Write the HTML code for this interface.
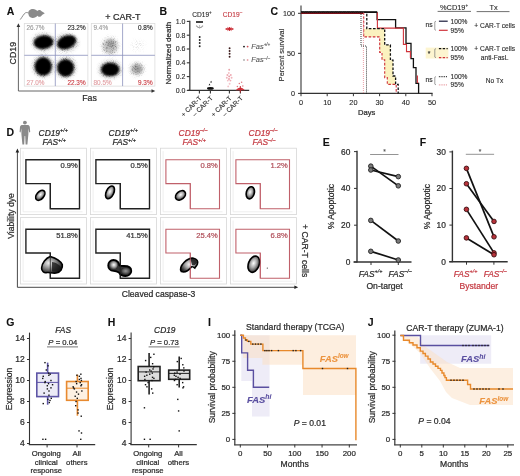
<!DOCTYPE html>
<html><head><meta charset="utf-8"><style>
html,body{margin:0;padding:0;background:#fff;}
svg{display:block;font-family:"Liberation Sans", sans-serif;will-change:transform;}
</style></head><body>
<svg width="520" height="476" viewBox="0 0 520 476">
<defs>
<filter id="blurA" x="-50%" y="-50%" width="200%" height="200%"><feGaussianBlur stdDeviation="1.2"/></filter>
<filter id="speck" x="-50%" y="-50%" width="200%" height="200%" color-interpolation-filters="sRGB"><feGaussianBlur in="SourceGraphic" stdDeviation="2.2" result="b"/><feTurbulence type="fractalNoise" baseFrequency="1.1" numOctaves="1" seed="7" result="n"/><feColorMatrix in="n" type="matrix" values="0 0 0 0 0  0 0 0 0 0  0 0 0 0 0  3 0 0 0 -1.45" result="d"/><feComposite in="d" in2="b" operator="arithmetic" k1="0.75" k2="0" k3="0" k4="0" result="c"/><feGaussianBlur in="c" stdDeviation="0.35"/></filter>
<filter id="blurA2" x="-50%" y="-50%" width="200%" height="200%"><feGaussianBlur stdDeviation="2.2"/></filter>
<filter id="blurA3" x="-50%" y="-50%" width="200%" height="200%"><feGaussianBlur stdDeviation="1.8"/></filter>
<radialGradient id="gD" cx="55%" cy="45%" r="60%"><stop offset="0" stop-color="#fff"/><stop offset="0.45" stop-color="#aaa"/><stop offset="1" stop-color="#222"/></radialGradient>
<radialGradient id="gD2" cx="35%" cy="40%" r="70%"><stop offset="0" stop-color="#eee"/><stop offset="0.4" stop-color="#999"/><stop offset="1" stop-color="#111"/></radialGradient>
<radialGradient id="gD3" cx="50%" cy="50%" r="60%"><stop offset="0" stop-color="#999"/><stop offset="0.6" stop-color="#555"/><stop offset="1" stop-color="#111"/></radialGradient>
</defs>
<text x="6.7" y="14.7" font-size="10.5" fill="#111" stroke="#111" stroke-width="0.1" font-weight="bold">A</text>
<path d="M28.3,13.5 C28,10.5 30.5,8.9 33,9 C35,9 36.5,10 37.2,11 C38,10 39.5,9.6 40.5,10.2 C41,10.6 41.5,11.2 42,11.6 L44.8,13.3 L42,15 C41.5,16 40.5,16.8 39.5,16.8 C38.5,16.8 37.8,16.3 37.2,15.8 C36.5,17.2 34.5,18.1 32.5,18 C30,17.9 28.5,16 28.3,13.5 Z" fill="#8a8a8a"/>
<path d="M20.2,19.6 C22,17.5 23.5,14 25.5,12.8 C26.5,12.3 27.5,12.6 28.6,13" stroke="#8a8a8a" stroke-width="1.0" fill="none"/>
<line x1="18.4" y1="91" x2="18.4" y2="26" stroke="#555" stroke-width="0.9"/>
<path d="M18.4,23.2 L16.6,27 L20.2,27 Z" fill="#333"/>
<line x1="18.4" y1="91" x2="152.5" y2="91" stroke="#555" stroke-width="0.9"/>
<path d="M155.3,91 L151.5,89.2 L151.5,92.8 Z" fill="#333"/>
<rect x="24.3" y="23.5" width="63.6" height="62.6" fill="#fff" stroke="#dcdcdc" stroke-width="0.8"/>
<rect x="91.3" y="23.5" width="63.6" height="62.6" fill="#fff" stroke="#dcdcdc" stroke-width="0.8"/>
<g filter="url(#speck)">
<ellipse cx="43.5" cy="42.2" rx="10.5" ry="7.8" fill="#000" opacity="1"/>
<ellipse cx="66.8" cy="42.2" rx="10.5" ry="7.8" fill="#000" opacity="1"/>
<ellipse cx="43.2" cy="66.3" rx="9.6" ry="10.2" fill="#000" opacity="1"/>
<ellipse cx="65.6" cy="67.6" rx="9.5" ry="9.6" fill="#000" opacity="1"/>
<ellipse cx="110.2" cy="69.4" rx="10.5" ry="8.2" fill="#000" opacity="1"/>
<ellipse cx="110.2" cy="46" rx="8.8" ry="9" fill="#000" opacity="0.55"/>
<ellipse cx="137" cy="69" rx="7.4" ry="7" fill="#000" opacity="0.55"/>
<ellipse cx="138" cy="45.5" rx="6.5" ry="5.5" fill="#000" opacity="0.25"/>
<ellipse cx="44.5" cy="60" rx="7" ry="4" fill="#000" opacity="0.5"/>
<ellipse cx="66.5" cy="61" rx="7.5" ry="5" fill="#000" opacity="0.55"/>
<ellipse cx="60.5" cy="50" rx="4" ry="3" fill="#000" opacity="0.5"/>
</g>
<g filter="url(#blurA)">
<ellipse cx="43.5" cy="42.2" rx="9.7" ry="6.7" transform="rotate(-6 43.5 42.2)" fill="#000"/>
<ellipse cx="66.6" cy="42.3" rx="9.9" ry="6.4" transform="rotate(-22 66.6 42.3)" fill="#000"/>
<ellipse cx="43.2" cy="66.4" rx="8.5" ry="9.2" fill="#000"/>
<ellipse cx="65.6" cy="67.8" rx="8.3" ry="8.6" fill="#000"/>
<ellipse cx="110.2" cy="69.4" rx="9.1" ry="6.7" fill="#000"/>
</g>
<g filter="url(#blurA3)">
<ellipse cx="110.2" cy="46.2" rx="7.6" ry="7.8" fill="#000" opacity="0.22"/>
<ellipse cx="110.8" cy="43.5" rx="4" ry="4" fill="#000" opacity="0.18"/>
<ellipse cx="137" cy="69" rx="6.2" ry="5.8" fill="#000" opacity="0.28"/>
<ellipse cx="137.5" cy="69" rx="3" ry="3" fill="#000" opacity="0.18"/>
</g>
<g filter="url(#blurA2)" opacity="0.25">
<ellipse cx="43.5" cy="42.2" rx="10.5" ry="7.5" fill="#000"/>
<ellipse cx="66.8" cy="42.5" rx="10.5" ry="7.5" fill="#000"/>
<ellipse cx="43.2" cy="66.3" rx="9.5" ry="10" fill="#000"/>
<ellipse cx="65.6" cy="67.6" rx="9.5" ry="9.5" fill="#000"/>
<ellipse cx="110.2" cy="69.4" rx="10.5" ry="8" fill="#000"/>
</g>
<line x1="55.3" y1="23.5" x2="55.3" y2="86.1" stroke="#8c90bd" stroke-width="0.8"/>
<line x1="24.3" y1="55.3" x2="87.9" y2="55.3" stroke="#8c90bd" stroke-width="0.8"/>
<line x1="122.6" y1="23.5" x2="122.6" y2="86.1" stroke="#8c90bd" stroke-width="0.8"/>
<line x1="91.3" y1="55.3" x2="154.9" y2="55.3" stroke="#8c90bd" stroke-width="0.8"/>
<text x="26.4" y="30.2" font-size="6.4" fill="#9a9a9a" stroke="#9a9a9a" stroke-width="0.12">26.7%</text>
<text x="85.6" y="30.2" font-size="6.4" fill="#222" stroke="#222" stroke-width="0.12" text-anchor="end">23.2%</text>
<text x="26.4" y="85.3" font-size="6.4" fill="#e2a0a4" stroke="#e2a0a4" stroke-width="0.12">27.0%</text>
<text x="85.6" y="85.3" font-size="6.4" fill="#c93a40" stroke="#c93a40" stroke-width="0.12" text-anchor="end">22.3%</text>
<text x="93.5" y="30.2" font-size="6.4" fill="#9a9a9a" stroke="#9a9a9a" stroke-width="0.12">9.4%</text>
<text x="152.6" y="30.2" font-size="6.4" fill="#222" stroke="#222" stroke-width="0.12" text-anchor="end">0.8%</text>
<text x="93.5" y="85.3" font-size="6.4" fill="#e2a0a4" stroke="#e2a0a4" stroke-width="0.12">80.5%</text>
<text x="152.6" y="85.3" font-size="6.4" fill="#c93a40" stroke="#c93a40" stroke-width="0.12" text-anchor="end">9.3%</text>
<text x="105.3" y="20.4" font-size="9" fill="#2a2a2a" stroke="#2a2a2a" stroke-width="0.22">+ CAR-T</text>
<text x="15.8" y="53.2" font-size="8.8" fill="#2a2a2a" stroke="#2a2a2a" stroke-width="0.22" text-anchor="middle" transform="rotate(-90 15.8 53.2)">CD19</text>
<text x="89.5" y="101.4" font-size="8.8" fill="#2a2a2a" stroke="#2a2a2a" stroke-width="0.22" text-anchor="middle">Fas</text>
<text x="159.6" y="14.7" font-size="10.5" fill="#111" stroke="#111" stroke-width="0.1" font-weight="bold">B</text>
<line x1="189.8" y1="20.8" x2="189.8" y2="91" stroke="#4a4a4a" stroke-width="1.4"/>
<line x1="187.7" y1="90.4" x2="249.2" y2="90.4" stroke="#333" stroke-width="1.4"/>
<line x1="186.8" y1="90.4" x2="189.8" y2="90.4" stroke="#333" stroke-width="1.1"/>
<text x="185.4" y="92.80000000000001" font-size="7" fill="#2a2a2a" stroke="#2a2a2a" stroke-width="0.12" text-anchor="end">0.0</text>
<line x1="186.8" y1="76.60000000000001" x2="189.8" y2="76.60000000000001" stroke="#333" stroke-width="1.1"/>
<text x="185.4" y="79.00000000000001" font-size="7" fill="#2a2a2a" stroke="#2a2a2a" stroke-width="0.12" text-anchor="end">0.2</text>
<line x1="186.8" y1="62.800000000000004" x2="189.8" y2="62.800000000000004" stroke="#333" stroke-width="1.1"/>
<text x="185.4" y="65.2" font-size="7" fill="#2a2a2a" stroke="#2a2a2a" stroke-width="0.12" text-anchor="end">0.4</text>
<line x1="186.8" y1="49.0" x2="189.8" y2="49.0" stroke="#333" stroke-width="1.1"/>
<text x="185.4" y="51.4" font-size="7" fill="#2a2a2a" stroke="#2a2a2a" stroke-width="0.12" text-anchor="end">0.6</text>
<line x1="186.8" y1="35.2" x2="189.8" y2="35.2" stroke="#333" stroke-width="1.1"/>
<text x="185.4" y="37.6" font-size="7" fill="#2a2a2a" stroke="#2a2a2a" stroke-width="0.12" text-anchor="end">0.8</text>
<line x1="186.8" y1="21.400000000000006" x2="189.8" y2="21.400000000000006" stroke="#333" stroke-width="1.1"/>
<text x="185.4" y="23.800000000000004" font-size="7" fill="#2a2a2a" stroke="#2a2a2a" stroke-width="0.12" text-anchor="end">1.0</text>
<line x1="199.4" y1="90.4" x2="199.4" y2="93.5" stroke="#333" stroke-width="1.1"/>
<line x1="210.4" y1="90.4" x2="210.4" y2="93.5" stroke="#333" stroke-width="1.1"/>
<line x1="229.4" y1="90.4" x2="229.4" y2="93.5" stroke="#333" stroke-width="1.1"/>
<line x1="240.4" y1="90.4" x2="240.4" y2="93.5" stroke="#333" stroke-width="1.1"/>
<text x="171.0" y="53.2" font-size="8.0" fill="#2a2a2a" stroke="#2a2a2a" stroke-width="0.22" text-anchor="middle" transform="rotate(-90 171.0 53.2)">Normalized death</text>
<text x="192.2" y="16.5" font-size="6.6" fill="#2a2a2a" stroke="#2a2a2a" stroke-width="0.12">CD19<tspan dy="-2.2" font-size="4.5">+</tspan></text>
<text x="222.8" y="16.5" font-size="6.6" fill="#c43a42" stroke="#c43a42" stroke-width="0.12">CD19<tspan dy="-2.2" font-size="4.5">&#8211;</tspan></text>
<line x1="196" y1="22" x2="203" y2="22" stroke="#111" stroke-width="1.6"/>
<path d="M196.2,25.6 Q199.6,29.8 203,25.6" stroke="#999" stroke-width="1.1" fill="none"/>
<line x1="199.6" y1="25" x2="199.6" y2="28.5" stroke="#aaa" stroke-width="0.8"/>
<circle cx="199.7" cy="37.0" r="0.95" fill="#222"/>
<circle cx="199.7" cy="40.0" r="0.95" fill="#222"/>
<circle cx="199.7" cy="43.0" r="0.95" fill="#222"/>
<circle cx="199.7" cy="46.2" r="0.95" fill="#222"/>
<ellipse cx="210.4" cy="88.4" rx="3.4" ry="1.4" fill="#111"/>
<path d="M210.2,82.6 L212,82.6 L211.1,80.8 Z" fill="#111"/>
<path d="M208.6,85.2 L210.4,85.2 L209.5,83.4 Z" fill="#111"/>
<path d="M225.6,29 L233.4,29" stroke="#c8242c" stroke-width="1.6"/>
<path d="M227.5,27.4 L231.5,30.6 M227.5,30.6 L231.5,27.4 M229.5,27 L229.5,31" stroke="#c8242c" stroke-width="0.9"/>
<circle cx="229.6" cy="48.2" r="0.95" fill="#3a1a1a"/>
<circle cx="229.6" cy="51.0" r="0.95" fill="#3a1a1a"/>
<circle cx="229.6" cy="53.8" r="0.95" fill="#3a1a1a"/>
<circle cx="229.6" cy="56.8" r="0.95" fill="#3a1a1a"/>
<circle cx="229.2" cy="69.8" r="0.95" fill="#e8a2aa"/>
<circle cx="228.8" cy="73" r="0.95" fill="#f3c0c6"/>
<circle cx="227.4" cy="75" r="0.95" fill="#eeaab2"/>
<circle cx="230.8" cy="75" r="0.95" fill="#eeaab2"/>
<circle cx="229.2" cy="76.4" r="0.95" fill="#e99aa4"/>
<circle cx="226.8" cy="77.8" r="0.95" fill="#f0b4bb"/>
<circle cx="231.6" cy="77.8" r="0.95" fill="#f0b4bb"/>
<circle cx="229" cy="79" r="0.95" fill="#e99aa4"/>
<circle cx="227.8" cy="80.6" r="0.95" fill="#f3c0c6"/>
<circle cx="230.4" cy="80.6" r="0.95" fill="#eeaab2"/>
<circle cx="229.6" cy="83.8" r="0.95" fill="#f3c4ca"/>
<circle cx="228.2" cy="86.4" r="0.95" fill="#f3c4ca"/>
<path d="M235.6,90.2 Q240.3,84.6 245,90.2 Z" fill="#d0343c"/>
<path d="M240.3,86 L240.3,92.5" stroke="#c0282f" stroke-width="1"/>
<circle cx="239.3" cy="83.6" r="0.75" fill="#e07a82"/>
<circle cx="241.6" cy="82.2" r="0.75" fill="#e07a82"/>
<circle cx="242.8" cy="86" r="0.75" fill="#e07a82"/>
<circle cx="237.4" cy="86.6" r="0.75" fill="#e07a82"/>
<circle cx="244" cy="46.6" r="0.9" fill="#111"/><circle cx="247.6" cy="46.6" r="0.9" fill="#d05058"/>
<circle cx="244" cy="60" r="0.9" fill="#aaa"/><circle cx="247.6" cy="60" r="0.9" fill="#e9a4aa"/>
<text x="251.3" y="48.9" font-size="7.4" fill="#555" stroke="#555" stroke-width="0.12" font-style="italic">Fas<tspan dy="-2.8" font-size="4.6">+/+</tspan></text>
<text x="251.3" y="62.3" font-size="7.4" fill="#555" stroke="#555" stroke-width="0.12" font-style="italic">Fas<tspan dy="-2.8" font-size="4.6">&#8211;/&#8211;</tspan></text>
<text x="202.2" y="98.6" font-size="6.7" fill="#2a2a2a" stroke="#2a2a2a" stroke-width="0.12" text-anchor="end" transform="rotate(-45 202.2 98.6)">+ CAR-T</text>
<text x="213.4" y="98.6" font-size="6.7" fill="#2a2a2a" stroke="#2a2a2a" stroke-width="0.12" text-anchor="end" transform="rotate(-45 213.4 98.6)">&#8211; CAR-T</text>
<text x="232.2" y="98.6" font-size="6.7" fill="#2a2a2a" stroke="#2a2a2a" stroke-width="0.12" text-anchor="end" transform="rotate(-45 232.2 98.6)">+ CAR-T</text>
<text x="243.4" y="98.6" font-size="6.7" fill="#2a2a2a" stroke="#2a2a2a" stroke-width="0.12" text-anchor="end" transform="rotate(-45 243.4 98.6)">&#8211; CAR-T</text>
<text x="270.6" y="14.6" font-size="10.5" fill="#111" stroke="#111" stroke-width="0.1" font-weight="bold">C</text>
<line x1="301.0" y1="5.6" x2="301.0" y2="93.4" stroke="#555" stroke-width="1.3"/>
<line x1="300.4" y1="93.4" x2="432.6" y2="93.4" stroke="#333" stroke-width="1.3"/>
<line x1="298.0" y1="93.4" x2="301.0" y2="93.4" stroke="#333" stroke-width="1"/>
<text x="295.1" y="95.9" font-size="7.2" fill="#2a2a2a" stroke="#2a2a2a" stroke-width="0.12" text-anchor="end">0</text>
<line x1="298.0" y1="53.35" x2="301.0" y2="53.35" stroke="#333" stroke-width="1"/>
<text x="295.1" y="55.85" font-size="7.2" fill="#2a2a2a" stroke="#2a2a2a" stroke-width="0.12" text-anchor="end">50</text>
<line x1="298.0" y1="13.299999999999997" x2="301.0" y2="13.299999999999997" stroke="#333" stroke-width="1"/>
<text x="295.1" y="15.799999999999997" font-size="7.2" fill="#2a2a2a" stroke="#2a2a2a" stroke-width="0.12" text-anchor="end">100</text>
<line x1="301.0" y1="93.4" x2="301.0" y2="96.2" stroke="#333" stroke-width="1"/>
<text x="301.0" y="105.3" font-size="7.3" fill="#2a2a2a" stroke="#2a2a2a" stroke-width="0.12" text-anchor="middle">0</text>
<line x1="327.2" y1="93.4" x2="327.2" y2="96.2" stroke="#333" stroke-width="1"/>
<text x="327.2" y="105.3" font-size="7.3" fill="#2a2a2a" stroke="#2a2a2a" stroke-width="0.12" text-anchor="middle">10</text>
<line x1="353.4" y1="93.4" x2="353.4" y2="96.2" stroke="#333" stroke-width="1"/>
<text x="353.4" y="105.3" font-size="7.3" fill="#2a2a2a" stroke="#2a2a2a" stroke-width="0.12" text-anchor="middle">20</text>
<line x1="379.6" y1="93.4" x2="379.6" y2="96.2" stroke="#333" stroke-width="1"/>
<text x="379.6" y="105.3" font-size="7.3" fill="#2a2a2a" stroke="#2a2a2a" stroke-width="0.12" text-anchor="middle">30</text>
<line x1="405.8" y1="93.4" x2="405.8" y2="96.2" stroke="#333" stroke-width="1"/>
<text x="405.8" y="105.3" font-size="7.3" fill="#2a2a2a" stroke="#2a2a2a" stroke-width="0.12" text-anchor="middle">40</text>
<line x1="432.0" y1="93.4" x2="432.0" y2="96.2" stroke="#333" stroke-width="1"/>
<text x="432.0" y="105.3" font-size="7.3" fill="#2a2a2a" stroke="#2a2a2a" stroke-width="0.12" text-anchor="middle">50</text>
<text x="366.7" y="115.2" font-size="7.6" fill="#2a2a2a" stroke="#2a2a2a" stroke-width="0.22" text-anchor="middle">Days</text>
<text x="284.3" y="54.9" font-size="7.4" fill="#2a2a2a" stroke="#2a2a2a" stroke-width="0.12" text-anchor="middle" transform="rotate(-90 284.3 54.9)">Percent survival</text>
<path d="M363.7,28.6 L366.8,28.6 L384.7,28.6 L384.7,44.9 L390.4,44.9 L390.4,60.2 L393,60.2 L393,76 L395.6,76 L395.6,84.4 L387.3,84.4 L387.3,77.6 L384.7,77.6 L384.7,59.7 L382,59.7 L382,52.4 L379.7,52.4 L379.7,36.9 L363.7,36.9 Z" fill="#fbf1b8" opacity="0.9"/>
<path d="M301,12.4 L377.1,12.4 L377.1,19.7 L395.6,19.7 L395.6,27.8 L406,27.8 L406,43.3 L411,43.3 L411,58.7 L413.4,58.7 L413.4,67.6 L416,67.6 L416,83.3 L418.6,83.3 L418.6,93.4" stroke="#111" stroke-width="1.3" fill="none"/>
<path d="M377.4,12.4 L377.4,28.1 L403.4,28.1 L403.4,44.4 L406.5,44.4 L406.5,51.6 L410.4,51.6 L410.4,58 M417.4,75.5 L417.4,82.5 L418.2,82.5" stroke="#d0333b" stroke-width="1.1" fill="none"/>
<path d="M301,12.4 L366.8,12.4 L366.8,28.6 L384.7,28.6 L384.7,44.9 L390.4,44.9 L390.4,60.2 L393,60.2 L393,76 L395.6,76 L395.6,84.4 L398.2,84.4 L398.2,93.4" stroke="#111" stroke-width="1.3" fill="none" stroke-dasharray="2.6 1.6"/>
<path d="M363.7,12.4 L363.7,36.9 L379.7,36.9 L379.7,52.4 L382,52.4 L382,59.7 L384.7,59.7 L384.7,77.6 L387.3,77.6 L387.3,84.4 L396.2,84.4 L396.2,93.4" stroke="#d0333b" stroke-width="1.1" fill="none" stroke-dasharray="2.6 1.6"/>
<path d="M301,12.6 L363.4,12.6 L363.4,93" stroke="#e58a92" stroke-width="1" fill="none" stroke-dasharray="0.8 1.2"/>
<path d="M301,12.2 L361,12.2 L361,46 L366.5,46 L366.5,93.4" stroke="#111" stroke-width="1" fill="none" stroke-dasharray="0.8 1.2"/>
<path d="M301,13.3 L363,13.3" stroke="#7a1018" stroke-width="1.4" fill="none"/>
<path d="M301,11.9 L377,11.9" stroke="#111" stroke-width="1.3" fill="none"/>
<text x="440" y="9.6" font-size="7.4" fill="#2a2a2a" stroke="#2a2a2a" stroke-width="0.12">%CD19<tspan dy="-2.6" font-size="4.6">+</tspan></text>
<line x1="437.6" y1="11.4" x2="471" y2="11.4" stroke="#333" stroke-width="0.7"/>
<text x="493.6" y="9.6" font-size="7.4" fill="#2a2a2a" stroke="#2a2a2a" stroke-width="0.12" text-anchor="middle">Tx</text>
<line x1="476.6" y1="11.6" x2="509.5" y2="11.6" stroke="#333" stroke-width="0.7"/>
<line x1="438.9" y1="21.2" x2="447.7" y2="21.2" stroke="#1a1a3a" stroke-width="1.2"/>
<line x1="438.9" y1="30.3" x2="447.7" y2="30.3" stroke="#d0333b" stroke-width="1.2"/>
<text x="450.6" y="23.5" font-size="6.6" fill="#2a2a2a" stroke="#2a2a2a" stroke-width="0.12">100%</text>
<text x="450.6" y="32.6" font-size="6.6" fill="#2a2a2a" stroke="#2a2a2a" stroke-width="0.12">95%</text>
<path d="M436,21.2 L434.8,21.8 L434.8,29.7 L436,30.3" stroke="#777" stroke-width="0.7" fill="none"/>
<text x="432.6" y="27.35" font-size="6.8" fill="#2a2a2a" stroke="#2a2a2a" stroke-width="0.12" text-anchor="end">ns</text>
<rect x="425.7" y="47.6" width="22.7" height="10.900000000000002" fill="#fdf5d0"/>
<line x1="438.9" y1="48.6" x2="447.7" y2="48.6" stroke="#111" stroke-width="1.2" stroke-dasharray="2.4 1.4"/>
<line x1="438.9" y1="57.7" x2="447.7" y2="57.7" stroke="#d0333b" stroke-width="1.2" stroke-dasharray="2.4 1.4"/>
<text x="450.6" y="50.9" font-size="6.6" fill="#2a2a2a" stroke="#2a2a2a" stroke-width="0.12">100%</text>
<text x="450.6" y="60.0" font-size="6.6" fill="#2a2a2a" stroke="#2a2a2a" stroke-width="0.12">95%</text>
<path d="M436,48.6 L434.8,49.2 L434.8,57.1 L436,57.7" stroke="#777" stroke-width="0.7" fill="none"/>
<text x="429" y="55.75000000000001" font-size="6.8" fill="#2a2a2a" stroke="#2a2a2a" stroke-width="0.12" text-anchor="middle">*</text>
<line x1="438.9" y1="76.6" x2="447.7" y2="76.6" stroke="#111" stroke-width="1.2" stroke-dasharray="0.8 1"/>
<line x1="438.9" y1="84.8" x2="447.7" y2="84.8" stroke="#e58a92" stroke-width="1.2" stroke-dasharray="0.8 1"/>
<text x="450.6" y="78.89999999999999" font-size="6.6" fill="#2a2a2a" stroke="#2a2a2a" stroke-width="0.12">100%</text>
<text x="450.6" y="87.1" font-size="6.6" fill="#2a2a2a" stroke="#2a2a2a" stroke-width="0.12">95%</text>
<path d="M436,76.6 L434.8,77.19999999999999 L434.8,84.2 L436,84.8" stroke="#777" stroke-width="0.7" fill="none"/>
<text x="432.6" y="82.29999999999998" font-size="6.8" fill="#2a2a2a" stroke="#2a2a2a" stroke-width="0.12" text-anchor="end">ns</text>
<text x="494.6" y="28.2" font-size="6.6" fill="#2a2a2a" stroke="#2a2a2a" stroke-width="0.12" text-anchor="middle">+ CAR-T cells</text>
<text x="494.6" y="51" font-size="6.6" fill="#2a2a2a" stroke="#2a2a2a" stroke-width="0.12" text-anchor="middle">+ CAR-T cells</text>
<text x="494.6" y="59.6" font-size="6.6" fill="#2a2a2a" stroke="#2a2a2a" stroke-width="0.12" text-anchor="middle">anti-FasL</text>
<text x="494.6" y="83" font-size="6.6" fill="#2a2a2a" stroke="#2a2a2a" stroke-width="0.12" text-anchor="middle">No Tx</text>
<text x="430.6" y="27.5" font-size="6.8" fill="#2a2a2a" stroke="#2a2a2a" stroke-width="0.12"></text>
<text x="6.6" y="136.0" font-size="10.5" fill="#111" stroke="#111" stroke-width="0.1" font-weight="bold">D</text>
<g fill="#8a8a8a"><circle cx="24.9" cy="122.6" r="1.9"/><path d="M21.8,125 L28,125 C29,125.2 29.6,126 29.8,127 L30.2,132 L29.2,132.4 L28.4,128.2 L28.4,134 L27.4,144.4 L25.6,144.4 L25.2,136 L24.6,136 L24.2,144.4 L22.4,144.4 L21.4,134 L21.4,128.2 L20.6,132.4 L19.6,132 L20,127 C20.2,126 20.8,125.2 21.8,125 Z"/></g>
<line x1="17.4" y1="287.3" x2="17.4" y2="151" stroke="#333" stroke-width="0.9"/>
<path d="M17.4,148.6 L15.6,152.4 L19.2,152.4 Z" fill="#222"/>
<line x1="17.4" y1="287.3" x2="295.5" y2="287.3" stroke="#333" stroke-width="0.9"/>
<path d="M298.2,287.3 L294.4,285.5 L294.4,289.1 Z" fill="#222"/>
<text x="38.6" y="135.5" font-size="8.4" fill="#2a2a2a" stroke="#2a2a2a" stroke-width="0.22" font-style="italic">CD19<tspan dy="-3.2" font-size="5.4">+/+</tspan></text>
<text x="42.4" y="145.1" font-size="8.4" fill="#2a2a2a" stroke="#2a2a2a" stroke-width="0.22" font-style="italic">FAS<tspan dy="-3.2" font-size="5.4">+/+</tspan></text>
<rect x="20.5" y="148.2" width="66" height="66.4" fill="none" stroke="#d6d6d6" stroke-width="0.8"/>
<path d="M23.1,151.2 L23.1,211.79999999999998 L82.5,211.79999999999998" stroke="#e6e6e6" stroke-width="0.7" fill="none"/>
<path d="M25.9,159.8 L79.5,159.8 L79.5,208.8 L50.3,208.8 L50.3,183.6 L25.9,183.6 Z" fill="none" stroke="#222" stroke-width="1.4"/>
<text x="77.8" y="168.4" font-size="7.6" fill="#333" stroke="#333" stroke-width="0.22" text-anchor="end">0.9%</text>
<rect x="20.5" y="217.6" width="66" height="66.4" fill="none" stroke="#d6d6d6" stroke-width="0.8"/>
<path d="M23.1,220.6 L23.1,281.2 L82.5,281.2" stroke="#e6e6e6" stroke-width="0.7" fill="none"/>
<path d="M25.9,229.20000000000002 L79.5,229.20000000000002 L79.5,278.20000000000005 L50.3,278.20000000000005 L50.3,253.0 L25.9,253.0 Z" fill="none" stroke="#222" stroke-width="1.4"/>
<text x="77.8" y="237.8" font-size="7.6" fill="#333" stroke="#333" stroke-width="0.22" text-anchor="end">51.8%</text>
<text x="108.6" y="135.5" font-size="8.4" fill="#2a2a2a" stroke="#2a2a2a" stroke-width="0.22" font-style="italic">CD19<tspan dy="-3.2" font-size="5.4">+/+</tspan></text>
<text x="112.4" y="145.1" font-size="8.4" fill="#2a2a2a" stroke="#2a2a2a" stroke-width="0.22" font-style="italic">FAS<tspan dy="-3.2" font-size="5.4">+/+</tspan></text>
<rect x="90.5" y="148.2" width="66" height="66.4" fill="none" stroke="#d6d6d6" stroke-width="0.8"/>
<path d="M93.1,151.2 L93.1,211.79999999999998 L152.5,211.79999999999998" stroke="#e6e6e6" stroke-width="0.7" fill="none"/>
<path d="M95.9,159.8 L149.5,159.8 L149.5,208.8 L120.3,208.8 L120.3,183.6 L95.9,183.6 Z" fill="none" stroke="#222" stroke-width="1.4"/>
<text x="147.8" y="168.4" font-size="7.6" fill="#333" stroke="#333" stroke-width="0.22" text-anchor="end">0.5%</text>
<rect x="90.5" y="217.6" width="66" height="66.4" fill="none" stroke="#d6d6d6" stroke-width="0.8"/>
<path d="M93.1,220.6 L93.1,281.2 L152.5,281.2" stroke="#e6e6e6" stroke-width="0.7" fill="none"/>
<path d="M95.9,229.20000000000002 L149.5,229.20000000000002 L149.5,278.20000000000005 L120.3,278.20000000000005 L120.3,253.0 L95.9,253.0 Z" fill="none" stroke="#222" stroke-width="1.4"/>
<text x="147.8" y="237.8" font-size="7.6" fill="#333" stroke="#333" stroke-width="0.22" text-anchor="end">41.5%</text>
<text x="178.6" y="135.5" font-size="8.4" fill="#c43a42" stroke="#c43a42" stroke-width="0.22" font-style="italic">CD19<tspan dy="-3.2" font-size="5.4">&#8211;/&#8211;</tspan></text>
<text x="182.4" y="145.1" font-size="8.4" fill="#c43a42" stroke="#c43a42" stroke-width="0.22" font-style="italic">FAS<tspan dy="-3.2" font-size="5.4">+/+</tspan></text>
<rect x="160.5" y="148.2" width="66" height="66.4" fill="none" stroke="#d6d6d6" stroke-width="0.8"/>
<path d="M163.1,151.2 L163.1,211.79999999999998 L222.5,211.79999999999998" stroke="#e6e6e6" stroke-width="0.7" fill="none"/>
<path d="M165.9,159.8 L219.5,159.8 L219.5,208.8 L190.3,208.8 L190.3,183.6 L165.9,183.6 Z" fill="none" stroke="#c0606a" stroke-width="1.1"/>
<text x="217.8" y="168.4" font-size="7.6" fill="#b0505a" stroke="#b0505a" stroke-width="0.22" text-anchor="end">0.8%</text>
<rect x="160.5" y="217.6" width="66" height="66.4" fill="none" stroke="#d6d6d6" stroke-width="0.8"/>
<path d="M163.1,220.6 L163.1,281.2 L222.5,281.2" stroke="#e6e6e6" stroke-width="0.7" fill="none"/>
<path d="M165.9,229.20000000000002 L219.5,229.20000000000002 L219.5,278.20000000000005 L190.3,278.20000000000005 L190.3,253.0 L165.9,253.0 Z" fill="none" stroke="#c0606a" stroke-width="1.1"/>
<text x="217.8" y="237.8" font-size="7.6" fill="#b0505a" stroke="#b0505a" stroke-width="0.22" text-anchor="end">25.4%</text>
<text x="248.6" y="135.5" font-size="8.4" fill="#c43a42" stroke="#c43a42" stroke-width="0.22" font-style="italic">CD19<tspan dy="-3.2" font-size="5.4">&#8211;/&#8211;</tspan></text>
<text x="252.4" y="145.1" font-size="8.4" fill="#c43a42" stroke="#c43a42" stroke-width="0.22" font-style="italic">FAS<tspan dy="-3.2" font-size="5.4">&#8211;/&#8211;</tspan></text>
<rect x="230.5" y="148.2" width="66" height="66.4" fill="none" stroke="#d6d6d6" stroke-width="0.8"/>
<path d="M233.1,151.2 L233.1,211.79999999999998 L292.5,211.79999999999998" stroke="#e6e6e6" stroke-width="0.7" fill="none"/>
<path d="M235.9,159.8 L289.5,159.8 L289.5,208.8 L260.3,208.8 L260.3,183.6 L235.9,183.6 Z" fill="none" stroke="#c0606a" stroke-width="1.1"/>
<text x="287.8" y="168.4" font-size="7.6" fill="#b0505a" stroke="#b0505a" stroke-width="0.22" text-anchor="end">1.2%</text>
<rect x="230.5" y="217.6" width="66" height="66.4" fill="none" stroke="#d6d6d6" stroke-width="0.8"/>
<path d="M233.1,220.6 L233.1,281.2 L292.5,281.2" stroke="#e6e6e6" stroke-width="0.7" fill="none"/>
<path d="M235.9,229.20000000000002 L289.5,229.20000000000002 L289.5,278.20000000000005 L260.3,278.20000000000005 L260.3,253.0 L235.9,253.0 Z" fill="none" stroke="#c0606a" stroke-width="1.1"/>
<text x="287.8" y="237.8" font-size="7.6" fill="#b0505a" stroke="#b0505a" stroke-width="0.22" text-anchor="end">6.8%</text>
<text x="13.799999999999999" y="216" font-size="8.6" fill="#2a2a2a" stroke="#2a2a2a" stroke-width="0.22" text-anchor="middle" transform="rotate(-90 13.799999999999999 216)">Viability dye</text>
<text x="158.5" y="296.9" font-size="8.6" fill="#2a2a2a" stroke="#2a2a2a" stroke-width="0.22" text-anchor="middle">Cleaved caspase-3</text>
<text x="301.6" y="250.7" font-size="8.6" fill="#2a2a2a" stroke="#2a2a2a" stroke-width="0.22" text-anchor="middle" transform="rotate(90 301.6 250.7)">+ CAR-T cells</text>
<ellipse cx="40.3" cy="195.3" rx="5.8" ry="3.6" transform="rotate(-50 40.3 195.3)" fill="url(#gD)" stroke="#000" stroke-width="1.6"/>
<ellipse cx="110" cy="192.4" rx="6.8" ry="3.8" transform="rotate(-65 110 192.4)" fill="url(#gD)" stroke="#000" stroke-width="1.6"/>
<ellipse cx="180.5" cy="195.4" rx="5.6" ry="4.0" transform="rotate(-40 180.5 195.4)" fill="url(#gD)" stroke="#000" stroke-width="1.6"/>
<ellipse cx="250.3" cy="192.8" rx="6.2" ry="4.0" transform="rotate(-75 250.3 192.8)" fill="url(#gD)" stroke="#000" stroke-width="1.6"/>
<path d="M50.2,256.4 C54,257.5 60,260 62.3,264.5 C63,268.5 60.5,272.5 56,273 C52,273.5 49,272 47,272.6 C44,273.5 41.5,271 41.6,268 C41.8,263 46,258 50.2,256.4 Z" fill="url(#gD2)" stroke="#000" stroke-width="1.6"/>
<path d="M52,262 C55,262 60,265 61.5,268 C60,271.5 56,272.5 52,271.5 Z" fill="#111" opacity="0.75"/>
<path d="M113.4,260 C117,260 119.2,262.5 119.4,265.5 C120.5,266 122,266 124,266 C128.5,266 131.3,268 131.3,271 C131.3,274 128.5,276 125.5,276 C122,276 120,274.5 119,272.5 C117.5,271.5 115.6,270.8 113.4,270.8 C110.2,270.8 108.2,268.4 108.2,265.4 C108.2,262.4 110.4,260 113.4,260 Z" fill="#333" stroke="#000" stroke-width="1.8"/>
<ellipse cx="113.4" cy="265.2" rx="4.2" ry="4.2" fill="url(#gD)"/>
<ellipse cx="125.7" cy="271" rx="4.6" ry="3.4" fill="url(#gD3)"/>
<path d="M181.4,271.6 C179.4,269.5 181,265.5 184,262.5 C187,259.5 190,257.8 193.5,258.2 C197,258.8 198.4,261.5 197.4,264 C196.8,266 195.4,266.5 194.8,268 C193.2,267 192.2,266.2 191.6,266.8 C189,270 186,273.4 181.4,271.6 Z" fill="url(#gD)" stroke="#000" stroke-width="1.6"/>
<path d="M190.5,259 C193,258.4 196.5,259.6 197,262.4 C196,264.5 194,266 192,265 Z" fill="#111" opacity="0.8"/>
<ellipse cx="253.8" cy="264.2" rx="8.4" ry="5.4" transform="rotate(-70 253.8 264.2)" fill="url(#gD)" stroke="#000" stroke-width="1.6"/>
<circle cx="267.3" cy="268.1" r="0.6" fill="#333"/>
<path d="M50.3,208.8 L50.3,183.6" fill="none" stroke="#222" stroke-width="1.0" opacity="0.8"/>
<path d="M50.3,278.20000000000005 L50.3,253.0" fill="none" stroke="#222" stroke-width="1.0" opacity="0.8"/>
<path d="M120.3,208.8 L120.3,183.6" fill="none" stroke="#222" stroke-width="1.0" opacity="0.8"/>
<path d="M120.3,278.20000000000005 L120.3,253.0" fill="none" stroke="#222" stroke-width="1.0" opacity="0.8"/>
<path d="M190.3,208.8 L190.3,183.6" fill="none" stroke="#c0606a" stroke-width="1.0" opacity="0.8"/>
<path d="M190.3,278.20000000000005 L190.3,253.0" fill="none" stroke="#c0606a" stroke-width="1.0" opacity="0.8"/>
<path d="M260.3,208.8 L260.3,183.6" fill="none" stroke="#c0606a" stroke-width="1.0" opacity="0.8"/>
<path d="M260.3,278.20000000000005 L260.3,253.0" fill="none" stroke="#c0606a" stroke-width="1.0" opacity="0.8"/>
<text x="322.8" y="146.1" font-size="10.5" fill="#111" stroke="#111" stroke-width="0.1" font-weight="bold">E</text>
<line x1="357.0" y1="150.8" x2="357.0" y2="262.5" stroke="#333" stroke-width="1.4"/>
<line x1="353.5" y1="262.0" x2="411.5" y2="262.0" stroke="#333" stroke-width="1.4"/>
<line x1="354.0" y1="262.0" x2="357.0" y2="262.0" stroke="#333" stroke-width="1"/>
<text x="350.4" y="264.9" font-size="8.4" fill="#2a2a2a" stroke="#2a2a2a" stroke-width="0.22" text-anchor="end">0</text>
<line x1="354.0" y1="225.2" x2="357.0" y2="225.2" stroke="#333" stroke-width="1"/>
<text x="350.4" y="228.1" font-size="8.4" fill="#2a2a2a" stroke="#2a2a2a" stroke-width="0.22" text-anchor="end">20</text>
<line x1="354.0" y1="188.39999999999998" x2="357.0" y2="188.39999999999998" stroke="#333" stroke-width="1"/>
<text x="350.4" y="191.29999999999998" font-size="8.4" fill="#2a2a2a" stroke="#2a2a2a" stroke-width="0.22" text-anchor="end">40</text>
<line x1="354.0" y1="151.6" x2="357.0" y2="151.6" stroke="#333" stroke-width="1"/>
<text x="350.4" y="154.5" font-size="8.4" fill="#2a2a2a" stroke="#2a2a2a" stroke-width="0.22" text-anchor="end">60</text>
<line x1="371.0" y1="262" x2="371.0" y2="265" stroke="#333" stroke-width="1"/>
<line x1="398.3" y1="262" x2="398.3" y2="265" stroke="#333" stroke-width="1"/>
<text x="334.2" y="206.6" font-size="8.6" fill="#2a2a2a" stroke="#2a2a2a" stroke-width="0.22" text-anchor="middle" transform="rotate(-90 334.2 206.6)">% Apoptotic</text>
<line x1="370.1" y1="154.5" x2="398.5" y2="154.5" stroke="#888" stroke-width="0.9"/>
<text x="384.6" y="153.6" font-size="6.6" fill="#555" stroke="#555" stroke-width="0.12" text-anchor="middle">*</text>
<line x1="370.8" y1="166.136" x2="398.3" y2="185.824" stroke="#111" stroke-width="1.7"/>
<line x1="370.8" y1="170.0" x2="398.3" y2="176.624" stroke="#111" stroke-width="1.7"/>
<line x1="370.8" y1="220.416" x2="398.3" y2="241.024" stroke="#111" stroke-width="1.7"/>
<line x1="370.8" y1="251.328" x2="398.3" y2="259.976" stroke="#111" stroke-width="1.7"/>
<circle cx="370.8" cy="166.136" r="2.3" fill="#7a7a7a" stroke="#222" stroke-width="0.9"/>
<circle cx="398.3" cy="185.824" r="2.3" fill="#7a7a7a" stroke="#222" stroke-width="0.9"/>
<circle cx="370.8" cy="170.0" r="2.3" fill="#7a7a7a" stroke="#222" stroke-width="0.9"/>
<circle cx="398.3" cy="176.624" r="2.3" fill="#7a7a7a" stroke="#222" stroke-width="0.9"/>
<circle cx="370.8" cy="220.416" r="2.3" fill="#7a7a7a" stroke="#222" stroke-width="0.9"/>
<circle cx="398.3" cy="241.024" r="2.3" fill="#7a7a7a" stroke="#222" stroke-width="0.9"/>
<circle cx="370.8" cy="251.328" r="2.3" fill="#7a7a7a" stroke="#222" stroke-width="0.9"/>
<circle cx="398.3" cy="259.976" r="2.3" fill="#7a7a7a" stroke="#222" stroke-width="0.9"/>
<text x="370.6" y="276.5" font-size="8.4" fill="#2a2a2a" stroke="#2a2a2a" stroke-width="0.22" text-anchor="middle" font-style="italic">FAS<tspan dy="-3.2" font-size="5.4">+/+</tspan></text>
<text x="400.2" y="276.5" font-size="8.4" fill="#2a2a2a" stroke="#2a2a2a" stroke-width="0.22" text-anchor="middle" font-style="italic">FAS<tspan dy="-3.2" font-size="5.4">&#8211;/&#8211;</tspan></text>
<text x="384.6" y="289.2" font-size="8.6" fill="#2a2a2a" stroke="#2a2a2a" stroke-width="0.22" text-anchor="middle">On-target</text>
<text x="419.8" y="146.1" font-size="10.5" fill="#111" stroke="#111" stroke-width="0.1" font-weight="bold">F</text>
<line x1="452.4" y1="150.6" x2="452.4" y2="262.2" stroke="#333" stroke-width="1.4"/>
<line x1="449.2" y1="261.7" x2="507.7" y2="261.7" stroke="#333" stroke-width="1.4"/>
<line x1="449.4" y1="261.7" x2="452.4" y2="261.7" stroke="#333" stroke-width="1"/>
<text x="445.8" y="264.59999999999997" font-size="8.4" fill="#2a2a2a" stroke="#2a2a2a" stroke-width="0.22" text-anchor="end">0</text>
<line x1="449.4" y1="225.1" x2="452.4" y2="225.1" stroke="#333" stroke-width="1"/>
<text x="445.8" y="228.0" font-size="8.4" fill="#2a2a2a" stroke="#2a2a2a" stroke-width="0.22" text-anchor="end">10</text>
<line x1="449.4" y1="188.5" x2="452.4" y2="188.5" stroke="#333" stroke-width="1"/>
<text x="445.8" y="191.4" font-size="8.4" fill="#2a2a2a" stroke="#2a2a2a" stroke-width="0.22" text-anchor="end">20</text>
<line x1="449.4" y1="151.89999999999998" x2="452.4" y2="151.89999999999998" stroke="#333" stroke-width="1"/>
<text x="445.8" y="154.79999999999998" font-size="8.4" fill="#2a2a2a" stroke="#2a2a2a" stroke-width="0.22" text-anchor="end">30</text>
<line x1="466.5" y1="261.7" x2="466.5" y2="264.7" stroke="#333" stroke-width="1"/>
<line x1="493.9" y1="261.7" x2="493.9" y2="264.7" stroke="#333" stroke-width="1"/>
<text x="429.8" y="206.6" font-size="8.6" fill="#2a2a2a" stroke="#2a2a2a" stroke-width="0.22" text-anchor="middle" transform="rotate(-90 429.8 206.6)">% Apoptotic</text>
<line x1="465.8" y1="154.3" x2="494.1" y2="154.3" stroke="#888" stroke-width="0.9"/>
<text x="480" y="153.6" font-size="6.6" fill="#555" stroke="#555" stroke-width="0.12" text-anchor="middle">*</text>
<line x1="466.4" y1="168.37" x2="494.0" y2="236.81199999999998" stroke="#111" stroke-width="1.7"/>
<line x1="466.4" y1="183.74199999999996" x2="494.0" y2="221.44" stroke="#111" stroke-width="1.7"/>
<line x1="466.4" y1="209.36199999999997" x2="494.0" y2="252.916" stroke="#111" stroke-width="1.7"/>
<line x1="466.4" y1="237.91" x2="494.0" y2="254.74599999999998" stroke="#111" stroke-width="1.7"/>
<circle cx="466.4" cy="168.37" r="2.3" fill="#b8323a" stroke="#3a1012" stroke-width="0.9"/>
<circle cx="494.0" cy="236.81199999999998" r="2.3" fill="#b8323a" stroke="#3a1012" stroke-width="0.9"/>
<circle cx="466.4" cy="183.74199999999996" r="2.3" fill="#b8323a" stroke="#3a1012" stroke-width="0.9"/>
<circle cx="494.0" cy="221.44" r="2.3" fill="#b8323a" stroke="#3a1012" stroke-width="0.9"/>
<circle cx="466.4" cy="209.36199999999997" r="2.3" fill="#b8323a" stroke="#3a1012" stroke-width="0.9"/>
<circle cx="494.0" cy="252.916" r="2.3" fill="#b8323a" stroke="#3a1012" stroke-width="0.9"/>
<circle cx="466.4" cy="237.91" r="2.3" fill="#b8323a" stroke="#3a1012" stroke-width="0.9"/>
<circle cx="494.0" cy="254.74599999999998" r="2.3" fill="#b8323a" stroke="#3a1012" stroke-width="0.9"/>
<text x="465.6" y="276.5" font-size="8.4" fill="#c43a42" stroke="#c43a42" stroke-width="0.22" text-anchor="middle" font-style="italic">FAS<tspan dy="-3.2" font-size="5.4">+/+</tspan></text>
<text x="495.3" y="276.5" font-size="8.4" fill="#c43a42" stroke="#c43a42" stroke-width="0.22" text-anchor="middle" font-style="italic">FAS<tspan dy="-3.2" font-size="5.4">&#8211;/&#8211;</tspan></text>
<text x="478.8" y="289.2" font-size="8.6" fill="#c43a42" stroke="#c43a42" stroke-width="0.22" text-anchor="middle">Bystander</text>
<text x="6.2" y="325.9" font-size="10.5" fill="#111" stroke="#111" stroke-width="0.1" font-weight="bold">G</text>
<line x1="29.5" y1="332.6" x2="29.5" y2="445" stroke="#333" stroke-width="1.1"/>
<line x1="28.8" y1="444.6" x2="95.2" y2="444.6" stroke="#333" stroke-width="1.1"/>
<line x1="27.0" y1="443.5" x2="29.5" y2="443.5" stroke="#333" stroke-width="1"/>
<text x="24.8" y="446.1" font-size="8.5" fill="#2a2a2a" stroke="#2a2a2a" stroke-width="0.22" text-anchor="end">4</text>
<line x1="27.0" y1="422.5" x2="29.5" y2="422.5" stroke="#333" stroke-width="1"/>
<text x="24.8" y="425.1" font-size="8.5" fill="#2a2a2a" stroke="#2a2a2a" stroke-width="0.22" text-anchor="end">6</text>
<line x1="27.0" y1="401.5" x2="29.5" y2="401.5" stroke="#333" stroke-width="1"/>
<text x="24.8" y="404.1" font-size="8.5" fill="#2a2a2a" stroke="#2a2a2a" stroke-width="0.22" text-anchor="end">8</text>
<line x1="27.0" y1="380.5" x2="29.5" y2="380.5" stroke="#333" stroke-width="1"/>
<text x="24.8" y="383.1" font-size="8.5" fill="#2a2a2a" stroke="#2a2a2a" stroke-width="0.22" text-anchor="end">10</text>
<line x1="27.0" y1="359.5" x2="29.5" y2="359.5" stroke="#333" stroke-width="1"/>
<text x="24.8" y="362.1" font-size="8.5" fill="#2a2a2a" stroke="#2a2a2a" stroke-width="0.22" text-anchor="end">12</text>
<line x1="27.0" y1="338.5" x2="29.5" y2="338.5" stroke="#333" stroke-width="1"/>
<text x="24.8" y="341.1" font-size="8.5" fill="#2a2a2a" stroke="#2a2a2a" stroke-width="0.22" text-anchor="end">14</text>
<line x1="47.1" y1="444.6" x2="47.1" y2="447.4" stroke="#333" stroke-width="1"/>
<line x1="77.0" y1="444.6" x2="77.0" y2="447.4" stroke="#333" stroke-width="1"/>
<text x="11.8" y="388.9" font-size="8.6" fill="#2a2a2a" stroke="#2a2a2a" stroke-width="0.22" text-anchor="middle" transform="rotate(-90 11.8 388.9)">Expression</text>
<text x="63.2" y="332.9" font-size="8.4" fill="#2a2a2a" stroke="#2a2a2a" stroke-width="0.22" text-anchor="middle" font-style="italic">FAS</text>
<text x="62.8" y="344.7" font-size="7.7" fill="#2a2a2a" stroke="#2a2a2a" stroke-width="0.22" text-anchor="middle"><tspan font-style="italic">P</tspan> = 0.04</text>
<line x1="47" y1="346.9" x2="78" y2="346.9" stroke="#555" stroke-width="0.8"/>
<text x="46.2" y="455.9" font-size="7.7" fill="#2a2a2a" stroke="#2a2a2a" stroke-width="0.22" text-anchor="middle">Ongoing</text>
<text x="46.2" y="464.9" font-size="7.7" fill="#2a2a2a" stroke="#2a2a2a" stroke-width="0.22" text-anchor="middle">clinical</text>
<text x="46.2" y="473.4" font-size="7.7" fill="#2a2a2a" stroke="#2a2a2a" stroke-width="0.22" text-anchor="middle">response</text>
<text x="76.8" y="455.9" font-size="7.7" fill="#2a2a2a" stroke="#2a2a2a" stroke-width="0.22" text-anchor="middle">All</text>
<text x="76.8" y="464.9" font-size="7.7" fill="#2a2a2a" stroke="#2a2a2a" stroke-width="0.22" text-anchor="middle">others</text>
<line x1="47.65" y1="373.1" x2="47.65" y2="362.6" stroke="#5e55a6" stroke-width="1.6"/>
<line x1="47.65" y1="396.6" x2="47.65" y2="404.7" stroke="#5e55a6" stroke-width="1.6"/>
<rect x="36.8" y="373.1" width="21.700000000000003" height="23.5" fill="#ecebf6" stroke="#5e55a6" stroke-width="1.6"/>
<line x1="36.8" y1="382.4" x2="58.5" y2="382.4" stroke="#5e55a6" stroke-width="1.0"/>
<line x1="77.4" y1="381.5" x2="77.4" y2="374.6" stroke="#e88a30" stroke-width="1.6"/>
<line x1="77.4" y1="400.3" x2="77.4" y2="415.7" stroke="#e88a30" stroke-width="1.6"/>
<rect x="66.6" y="381.5" width="21.60000000000001" height="18.80000000000001" fill="#fdf1e3" stroke="#e88a30" stroke-width="1.6"/>
<line x1="66.6" y1="388.2" x2="88.2" y2="388.2" stroke="#e88a30" stroke-width="1.0"/>
<rect x="44.27964627091891" y="361.95" width="1.4" height="1.4" fill="#111"/>
<rect x="47.34229225295952" y="365.1" width="1.4" height="1.4" fill="#111"/>
<rect x="45.59955166548079" y="369.3" width="1.4" height="1.4" fill="#111"/>
<rect x="47.93920038596194" y="372.45" width="1.4" height="1.4" fill="#111"/>
<rect x="48.157203041080535" y="374.55" width="1.4" height="1.4" fill="#111"/>
<rect x="42.55528859239813" y="375.6" width="1.4" height="1.4" fill="#111"/>
<rect x="42.031679915548736" y="377.7" width="1.4" height="1.4" fill="#111"/>
<rect x="50.2746908209646" y="379.8" width="1.4" height="1.4" fill="#111"/>
<rect x="44.49354014328007" y="380.85" width="1.4" height="1.4" fill="#111"/>
<rect x="44.243309610466966" y="381.90000000000003" width="1.4" height="1.4" fill="#111"/>
<rect x="51.856448355104625" y="384.0" width="1.4" height="1.4" fill="#111"/>
<rect x="46.60263507522448" y="385.05" width="1.4" height="1.4" fill="#111"/>
<rect x="50.26461451274389" y="387.15000000000003" width="1.4" height="1.4" fill="#111"/>
<rect x="46.66353208699335" y="388.2" width="1.4" height="1.4" fill="#111"/>
<rect x="48.29068140544162" y="390.3" width="1.4" height="1.4" fill="#111"/>
<rect x="43.406164240235235" y="392.40000000000003" width="1.4" height="1.4" fill="#111"/>
<rect x="48.248606582851885" y="394.5" width="1.4" height="1.4" fill="#111"/>
<rect x="50.58045307143297" y="397.65000000000003" width="1.4" height="1.4" fill="#111"/>
<rect x="47.13181210383301" y="398.7" width="1.4" height="1.4" fill="#111"/>
<rect x="49.3125185620149" y="399.75" width="1.4" height="1.4" fill="#111"/>
<rect x="48.61411475369592" y="401.85" width="1.4" height="1.4" fill="#111"/>
<rect x="42.54031438226997" y="402.90000000000003" width="1.4" height="1.4" fill="#111"/>
<rect x="49.48230246286817" y="373.5" width="1.4" height="1.4" fill="#111"/>
<rect x="47.81099582931317" y="382.95" width="1.4" height="1.4" fill="#111"/>
<rect x="44.91267659515712" y="438.6" width="1.4" height="1.4" fill="#111"/>
<rect x="42.2101175146975" y="438.6" width="1.4" height="1.4" fill="#111"/>
<rect x="80.15527236978946" y="373.5" width="1.4" height="1.4" fill="#111"/>
<rect x="76.22749088665466" y="374.55" width="1.4" height="1.4" fill="#111"/>
<rect x="78.68823924065804" y="375.6" width="1.4" height="1.4" fill="#111"/>
<rect x="80.28812800255481" y="377.7" width="1.4" height="1.4" fill="#111"/>
<rect x="78.64129483611202" y="378.75" width="1.4" height="1.4" fill="#111"/>
<rect x="80.71098667583874" y="379.8" width="1.4" height="1.4" fill="#111"/>
<rect x="75.44963404000744" y="380.85" width="1.4" height="1.4" fill="#111"/>
<rect x="79.50908770985228" y="381.90000000000003" width="1.4" height="1.4" fill="#111"/>
<rect x="75.94621056050761" y="382.95" width="1.4" height="1.4" fill="#111"/>
<rect x="80.85586721704522" y="384.0" width="1.4" height="1.4" fill="#111"/>
<rect x="80.28866660338042" y="385.05" width="1.4" height="1.4" fill="#111"/>
<rect x="72.47454309730877" y="386.1" width="1.4" height="1.4" fill="#111"/>
<rect x="72.85968860200668" y="387.15000000000003" width="1.4" height="1.4" fill="#111"/>
<rect x="73.66986941233138" y="388.2" width="1.4" height="1.4" fill="#111"/>
<rect x="81.15480138898202" y="390.3" width="1.4" height="1.4" fill="#111"/>
<rect x="75.8616186662743" y="391.35" width="1.4" height="1.4" fill="#111"/>
<rect x="77.76648290866804" y="393.45" width="1.4" height="1.4" fill="#111"/>
<rect x="74.51026198425505" y="395.55" width="1.4" height="1.4" fill="#111"/>
<rect x="76.5724298382906" y="397.65000000000003" width="1.4" height="1.4" fill="#111"/>
<rect x="75.35866258844902" y="400.8" width="1.4" height="1.4" fill="#111"/>
<rect x="75.0091048877018" y="405.0" width="1.4" height="1.4" fill="#111"/>
<rect x="77.35074107405363" y="409.2" width="1.4" height="1.4" fill="#111"/>
<rect x="77.34251792970198" y="412.35" width="1.4" height="1.4" fill="#111"/>
<rect x="80.54201770847776" y="415.5" width="1.4" height="1.4" fill="#111"/>
<rect x="78.31982136634967" y="430.2" width="1.4" height="1.4" fill="#111"/>
<rect x="80.78945601200017" y="432.3" width="1.4" height="1.4" fill="#111"/>
<rect x="80.06400566396756" y="438.6" width="1.4" height="1.4" fill="#111"/>
<text x="107.8" y="325.9" font-size="10.5" fill="#111" stroke="#111" stroke-width="0.1" font-weight="bold">H</text>
<line x1="131.1" y1="332.6" x2="131.1" y2="445" stroke="#333" stroke-width="1.1"/>
<line x1="130.4" y1="444.6" x2="196.8" y2="444.6" stroke="#333" stroke-width="1.1"/>
<line x1="128.6" y1="443.5" x2="131.1" y2="443.5" stroke="#333" stroke-width="1"/>
<text x="126.39999999999999" y="446.1" font-size="8.5" fill="#2a2a2a" stroke="#2a2a2a" stroke-width="0.22" text-anchor="end">4</text>
<line x1="128.6" y1="422.5" x2="131.1" y2="422.5" stroke="#333" stroke-width="1"/>
<text x="126.39999999999999" y="425.1" font-size="8.5" fill="#2a2a2a" stroke="#2a2a2a" stroke-width="0.22" text-anchor="end">6</text>
<line x1="128.6" y1="401.5" x2="131.1" y2="401.5" stroke="#333" stroke-width="1"/>
<text x="126.39999999999999" y="404.1" font-size="8.5" fill="#2a2a2a" stroke="#2a2a2a" stroke-width="0.22" text-anchor="end">8</text>
<line x1="128.6" y1="380.5" x2="131.1" y2="380.5" stroke="#333" stroke-width="1"/>
<text x="126.39999999999999" y="383.1" font-size="8.5" fill="#2a2a2a" stroke="#2a2a2a" stroke-width="0.22" text-anchor="end">10</text>
<line x1="128.6" y1="359.5" x2="131.1" y2="359.5" stroke="#333" stroke-width="1"/>
<text x="126.39999999999999" y="362.1" font-size="8.5" fill="#2a2a2a" stroke="#2a2a2a" stroke-width="0.22" text-anchor="end">12</text>
<line x1="128.6" y1="338.5" x2="131.1" y2="338.5" stroke="#333" stroke-width="1"/>
<text x="126.39999999999999" y="341.1" font-size="8.5" fill="#2a2a2a" stroke="#2a2a2a" stroke-width="0.22" text-anchor="end">14</text>
<line x1="148.7" y1="444.6" x2="148.7" y2="447.4" stroke="#333" stroke-width="1"/>
<line x1="178.6" y1="444.6" x2="178.6" y2="447.4" stroke="#333" stroke-width="1"/>
<text x="113.39999999999999" y="388.9" font-size="8.6" fill="#2a2a2a" stroke="#2a2a2a" stroke-width="0.22" text-anchor="middle" transform="rotate(-90 113.39999999999999 388.9)">Expression</text>
<text x="164.8" y="332.9" font-size="8.4" fill="#2a2a2a" stroke="#2a2a2a" stroke-width="0.22" text-anchor="middle" font-style="italic">CD19</text>
<text x="164.39999999999998" y="344.7" font-size="7.7" fill="#2a2a2a" stroke="#2a2a2a" stroke-width="0.22" text-anchor="middle"><tspan font-style="italic">P</tspan> = 0.73</text>
<line x1="148.6" y1="346.9" x2="179.6" y2="346.9" stroke="#555" stroke-width="0.8"/>
<text x="147.8" y="455.9" font-size="7.7" fill="#2a2a2a" stroke="#2a2a2a" stroke-width="0.22" text-anchor="middle">Ongoing</text>
<text x="147.8" y="464.9" font-size="7.7" fill="#2a2a2a" stroke="#2a2a2a" stroke-width="0.22" text-anchor="middle">clinical</text>
<text x="147.8" y="473.4" font-size="7.7" fill="#2a2a2a" stroke="#2a2a2a" stroke-width="0.22" text-anchor="middle">response</text>
<text x="178.39999999999998" y="455.9" font-size="7.7" fill="#2a2a2a" stroke="#2a2a2a" stroke-width="0.22" text-anchor="middle">All</text>
<text x="178.39999999999998" y="464.9" font-size="7.7" fill="#2a2a2a" stroke="#2a2a2a" stroke-width="0.22" text-anchor="middle">others</text>
<line x1="149.1" y1="366.5" x2="149.1" y2="353.0" stroke="#222" stroke-width="1.6"/>
<line x1="149.1" y1="380.7" x2="149.1" y2="394.4" stroke="#222" stroke-width="1.6"/>
<rect x="138.2" y="366.5" width="21.80000000000001" height="14.199999999999989" fill="#dcdcdc" stroke="#222" stroke-width="1.6"/>
<line x1="138.2" y1="371.9" x2="160.0" y2="371.9" stroke="#222" stroke-width="1.0"/>
<line x1="179.2" y1="370.1" x2="179.2" y2="356.5" stroke="#222" stroke-width="1.6"/>
<line x1="179.2" y1="379.3" x2="179.2" y2="387.4" stroke="#222" stroke-width="1.6"/>
<rect x="168.7" y="370.1" width="21.0" height="9.199999999999989" fill="#dcdcdc" stroke="#222" stroke-width="1.6"/>
<line x1="168.7" y1="373.4" x2="189.7" y2="373.4" stroke="#222" stroke-width="1.0"/>
<rect x="153.20989644868817" y="353.55" width="1.4" height="1.4" fill="#111"/>
<rect x="150.0127354216252" y="356.7" width="1.4" height="1.4" fill="#111"/>
<rect x="144.93099621971072" y="359.85" width="1.4" height="1.4" fill="#111"/>
<rect x="151.9063753311627" y="363.0" width="1.4" height="1.4" fill="#111"/>
<rect x="152.94632947309063" y="366.15000000000003" width="1.4" height="1.4" fill="#111"/>
<rect x="152.34695984512237" y="368.25" width="1.4" height="1.4" fill="#111"/>
<rect x="148.99107503474323" y="369.3" width="1.4" height="1.4" fill="#111"/>
<rect x="150.438170201742" y="370.35" width="1.4" height="1.4" fill="#111"/>
<rect x="145.41124983675599" y="371.40000000000003" width="1.4" height="1.4" fill="#111"/>
<rect x="151.61607930273357" y="372.45" width="1.4" height="1.4" fill="#111"/>
<rect x="149.03532352351286" y="373.5" width="1.4" height="1.4" fill="#111"/>
<rect x="146.14957461986205" y="374.55" width="1.4" height="1.4" fill="#111"/>
<rect x="143.9346057714523" y="375.6" width="1.4" height="1.4" fill="#111"/>
<rect x="151.83942488422682" y="376.65000000000003" width="1.4" height="1.4" fill="#111"/>
<rect x="153.19806014921582" y="377.7" width="1.4" height="1.4" fill="#111"/>
<rect x="144.1851809310973" y="378.75" width="1.4" height="1.4" fill="#111"/>
<rect x="151.30595321257502" y="379.8" width="1.4" height="1.4" fill="#111"/>
<rect x="147.4046182734591" y="381.90000000000003" width="1.4" height="1.4" fill="#111"/>
<rect x="144.8076537445281" y="384.0" width="1.4" height="1.4" fill="#111"/>
<rect x="146.23891246819062" y="386.1" width="1.4" height="1.4" fill="#111"/>
<rect x="150.98791887277346" y="388.2" width="1.4" height="1.4" fill="#111"/>
<rect x="152.027670246282" y="392.40000000000003" width="1.4" height="1.4" fill="#111"/>
<rect x="143.74190061129545" y="407.1" width="1.4" height="1.4" fill="#111"/>
<rect x="149.4453252853181" y="438.6" width="1.4" height="1.4" fill="#111"/>
<rect x="143.74940243496036" y="438.6" width="1.4" height="1.4" fill="#111"/>
<rect x="180.48440477448517" y="357.75" width="1.4" height="1.4" fill="#111"/>
<rect x="176.6095414601901" y="360.90000000000003" width="1.4" height="1.4" fill="#111"/>
<rect x="182.10905307247359" y="364.05" width="1.4" height="1.4" fill="#111"/>
<rect x="183.1063575684334" y="367.2" width="1.4" height="1.4" fill="#111"/>
<rect x="178.35420373648046" y="369.3" width="1.4" height="1.4" fill="#111"/>
<rect x="183.2850894537578" y="370.35" width="1.4" height="1.4" fill="#111"/>
<rect x="176.3967005347634" y="371.40000000000003" width="1.4" height="1.4" fill="#111"/>
<rect x="174.06970704705412" y="372.45" width="1.4" height="1.4" fill="#111"/>
<rect x="179.29762808796602" y="373.5" width="1.4" height="1.4" fill="#111"/>
<rect x="173.6137776217532" y="374.55" width="1.4" height="1.4" fill="#111"/>
<rect x="175.2738485642842" y="375.6" width="1.4" height="1.4" fill="#111"/>
<rect x="177.3793613561699" y="376.65000000000003" width="1.4" height="1.4" fill="#111"/>
<rect x="179.40467122967343" y="377.7" width="1.4" height="1.4" fill="#111"/>
<rect x="174.86198991013566" y="378.75" width="1.4" height="1.4" fill="#111"/>
<rect x="173.72435824721205" y="379.8" width="1.4" height="1.4" fill="#111"/>
<rect x="181.97779033927725" y="381.90000000000003" width="1.4" height="1.4" fill="#111"/>
<rect x="176.43830519916094" y="384.0" width="1.4" height="1.4" fill="#111"/>
<rect x="182.88659426408455" y="386.1" width="1.4" height="1.4" fill="#111"/>
<rect x="182.26659641427602" y="387.15000000000003" width="1.4" height="1.4" fill="#111"/>
<rect x="177.07789239412185" y="398.7" width="1.4" height="1.4" fill="#111"/>
<rect x="177.90409632845905" y="410.25" width="1.4" height="1.4" fill="#111"/>
<rect x="178.50072984592566" y="430.2" width="1.4" height="1.4" fill="#111"/>
<text x="208.0" y="325.7" font-size="10.5" fill="#111" stroke="#111" stroke-width="0.1" font-weight="bold">I</text>
<line x1="234.8" y1="330.2" x2="234.8" y2="445.3" stroke="#444" stroke-width="1.3"/>
<line x1="234.2" y1="444.8" x2="357" y2="444.8" stroke="#444" stroke-width="1.3"/>
<line x1="232.3" y1="439.4" x2="235.3" y2="439.4" stroke="#333" stroke-width="1"/>
<text x="230.2" y="442.0" font-size="7.9" fill="#2a2a2a" stroke="#2a2a2a" stroke-width="0.22" text-anchor="end">0</text>
<line x1="232.3" y1="413.34999999999997" x2="235.3" y2="413.34999999999997" stroke="#333" stroke-width="1"/>
<text x="230.2" y="415.95" font-size="7.9" fill="#2a2a2a" stroke="#2a2a2a" stroke-width="0.22" text-anchor="end">25</text>
<line x1="232.3" y1="387.29999999999995" x2="235.3" y2="387.29999999999995" stroke="#333" stroke-width="1"/>
<text x="230.2" y="389.9" font-size="7.9" fill="#2a2a2a" stroke="#2a2a2a" stroke-width="0.22" text-anchor="end">50</text>
<line x1="232.3" y1="361.25" x2="235.3" y2="361.25" stroke="#333" stroke-width="1"/>
<text x="230.2" y="363.85" font-size="7.9" fill="#2a2a2a" stroke="#2a2a2a" stroke-width="0.22" text-anchor="end">75</text>
<line x1="232.3" y1="335.2" x2="235.3" y2="335.2" stroke="#333" stroke-width="1"/>
<text x="230.2" y="337.8" font-size="7.9" fill="#2a2a2a" stroke="#2a2a2a" stroke-width="0.22" text-anchor="end">100</text>
<line x1="240.3" y1="444.5" x2="240.3" y2="447.5" stroke="#333" stroke-width="1"/>
<text x="240.3" y="455.6" font-size="7.9" fill="#2a2a2a" stroke="#2a2a2a" stroke-width="0.22" text-anchor="middle">0</text>
<line x1="267.55" y1="444.5" x2="267.55" y2="447.5" stroke="#333" stroke-width="1"/>
<text x="267.55" y="455.6" font-size="7.9" fill="#2a2a2a" stroke="#2a2a2a" stroke-width="0.22" text-anchor="middle">50</text>
<line x1="294.8" y1="444.5" x2="294.8" y2="447.5" stroke="#333" stroke-width="1"/>
<text x="294.8" y="455.6" font-size="7.9" fill="#2a2a2a" stroke="#2a2a2a" stroke-width="0.22" text-anchor="middle">100</text>
<line x1="322.05" y1="444.5" x2="322.05" y2="447.5" stroke="#333" stroke-width="1"/>
<text x="322.05" y="455.6" font-size="7.9" fill="#2a2a2a" stroke="#2a2a2a" stroke-width="0.22" text-anchor="middle">150</text>
<line x1="349.3" y1="444.5" x2="349.3" y2="447.5" stroke="#333" stroke-width="1"/>
<text x="349.3" y="455.6" font-size="7.9" fill="#2a2a2a" stroke="#2a2a2a" stroke-width="0.22" text-anchor="middle">200</text>
<text x="294.7" y="467.3" font-size="8.6" fill="#2a2a2a" stroke="#2a2a2a" stroke-width="0.22" text-anchor="middle">Months</text>
<text x="215.5" y="387.3" font-size="8.6" fill="#2a2a2a" stroke="#2a2a2a" stroke-width="0.22" text-anchor="middle" transform="rotate(-90 215.5 387.3)">Survival probability</text>
<text x="295.2" y="330.3" font-size="8.65" fill="#2a2a2a" stroke="#2a2a2a" stroke-width="0.22" text-anchor="middle">Standard therapy (TCGA)</text>
<path d="M241.3,335.2 L252,335.2 L252,381 L241.3,381 Z" fill="#eeecf7"/>
<path d="M252,335.2 L269.6,335.2 L269.6,416.5 L252,416.5 Z" fill="#eeecf7"/>
<path d="M243,335.2 L356,335.2 L356,395 L303,395 L303,364.7 L262.4,364.7 L262.4,358 L243,358 Z" fill="#fbe0c4" opacity="0.55"/>
<path d="M240.3,335.2 L241.7,335.2 L241.7,352.9 L247.6,352.9 L247.6,370.2 L253.4,370.2 L253.4,387.3 L269.2,387.3" stroke="#5a4fa0" stroke-width="1.4" fill="none"/>
<path d="M240.3,335.3 L243.4,335.3 L243.4,338 L245.4,338 L245.4,340 L247.4,340 L247.4,341.4 L250.8,341.4 L250.8,344.1 L262.9,344.1 L262.9,350.6 L302.9,350.6 L302.9,368.5 L355.9,368.5 L355.9,440.2" stroke="#e8892b" stroke-width="1.4" fill="none"/>
<rect x="245.3" y="339.3" width="1.4" height="1.4" fill="#222"/>
<rect x="248.10000000000002" y="340.7" width="1.4" height="1.4" fill="#222"/>
<rect x="252.10000000000002" y="343.40000000000003" width="1.4" height="1.4" fill="#222"/>
<rect x="254.8" y="343.40000000000003" width="1.4" height="1.4" fill="#222"/>
<rect x="257.5" y="343.40000000000003" width="1.4" height="1.4" fill="#222"/>
<rect x="260.2" y="343.40000000000003" width="1.4" height="1.4" fill="#222"/>
<rect x="264.2" y="349.90000000000003" width="1.4" height="1.4" fill="#222"/>
<rect x="266.2" y="349.90000000000003" width="1.4" height="1.4" fill="#222"/>
<rect x="268.3" y="349.90000000000003" width="1.4" height="1.4" fill="#222"/>
<rect x="270.90000000000003" y="349.90000000000003" width="1.4" height="1.4" fill="#222"/>
<rect x="277.7" y="349.90000000000003" width="1.4" height="1.4" fill="#222"/>
<rect x="292.5" y="349.90000000000003" width="1.4" height="1.4" fill="#222"/>
<rect x="295.2" y="349.90000000000003" width="1.4" height="1.4" fill="#222"/>
<rect x="299.90000000000003" y="349.90000000000003" width="1.4" height="1.4" fill="#222"/>
<rect x="321.8" y="367.8" width="1.4" height="1.4" fill="#222"/>
<rect x="346.8" y="367.8" width="1.4" height="1.4" fill="#222"/>
<text x="247" y="403" font-size="9.4" fill="#5a4fa0" stroke="#5a4fa0" stroke-width="0.1" font-weight="bold" font-style="italic">FAS<tspan dy="-3.6" font-size="6.8">hi</tspan></text>
<text x="319.7" y="361.8" font-size="9.4" fill="#ec9440" stroke="#ec9440" stroke-width="0.1" font-weight="bold" font-style="italic">FAS<tspan dy="-3.6" font-size="6.4">low</tspan></text>
<text x="309.8" y="426.4" font-size="8.6" fill="#2a2a2a" stroke="#2a2a2a" stroke-width="0.22" text-anchor="middle"><tspan font-style="italic">P</tspan> = 0.01</text>
<text x="367.8" y="326.4" font-size="10.5" fill="#111" stroke="#111" stroke-width="0.1" font-weight="bold">J</text>
<line x1="394.8" y1="330.4" x2="394.8" y2="445.3" stroke="#444" stroke-width="1.3"/>
<line x1="394.2" y1="444.8" x2="514" y2="444.8" stroke="#444" stroke-width="1.3"/>
<line x1="392.4" y1="439.4" x2="395.4" y2="439.4" stroke="#333" stroke-width="1"/>
<text x="390.2" y="442.0" font-size="7.9" fill="#2a2a2a" stroke="#2a2a2a" stroke-width="0.22" text-anchor="end">0</text>
<line x1="392.4" y1="413.34999999999997" x2="395.4" y2="413.34999999999997" stroke="#333" stroke-width="1"/>
<text x="390.2" y="415.95" font-size="7.9" fill="#2a2a2a" stroke="#2a2a2a" stroke-width="0.22" text-anchor="end">25</text>
<line x1="392.4" y1="387.29999999999995" x2="395.4" y2="387.29999999999995" stroke="#333" stroke-width="1"/>
<text x="390.2" y="389.9" font-size="7.9" fill="#2a2a2a" stroke="#2a2a2a" stroke-width="0.22" text-anchor="end">50</text>
<line x1="392.4" y1="361.25" x2="395.4" y2="361.25" stroke="#333" stroke-width="1"/>
<text x="390.2" y="363.85" font-size="7.9" fill="#2a2a2a" stroke="#2a2a2a" stroke-width="0.22" text-anchor="end">75</text>
<line x1="392.4" y1="335.2" x2="395.4" y2="335.2" stroke="#333" stroke-width="1"/>
<text x="390.2" y="337.8" font-size="7.9" fill="#2a2a2a" stroke="#2a2a2a" stroke-width="0.22" text-anchor="end">100</text>
<line x1="400.3" y1="444.5" x2="400.3" y2="447.5" stroke="#333" stroke-width="1"/>
<text x="400.3" y="455.6" font-size="7.9" fill="#2a2a2a" stroke="#2a2a2a" stroke-width="0.22" text-anchor="middle">0</text>
<line x1="421.8" y1="444.5" x2="421.8" y2="447.5" stroke="#333" stroke-width="1"/>
<text x="421.8" y="455.6" font-size="7.9" fill="#2a2a2a" stroke="#2a2a2a" stroke-width="0.22" text-anchor="middle">5</text>
<line x1="443.3" y1="444.5" x2="443.3" y2="447.5" stroke="#333" stroke-width="1"/>
<text x="443.3" y="455.6" font-size="7.9" fill="#2a2a2a" stroke="#2a2a2a" stroke-width="0.22" text-anchor="middle">10</text>
<line x1="464.8" y1="444.5" x2="464.8" y2="447.5" stroke="#333" stroke-width="1"/>
<text x="464.8" y="455.6" font-size="7.9" fill="#2a2a2a" stroke="#2a2a2a" stroke-width="0.22" text-anchor="middle">15</text>
<line x1="486.3" y1="444.5" x2="486.3" y2="447.5" stroke="#333" stroke-width="1"/>
<text x="486.3" y="455.6" font-size="7.9" fill="#2a2a2a" stroke="#2a2a2a" stroke-width="0.22" text-anchor="middle">20</text>
<line x1="507.8" y1="444.5" x2="507.8" y2="447.5" stroke="#333" stroke-width="1"/>
<text x="507.8" y="455.6" font-size="7.9" fill="#2a2a2a" stroke="#2a2a2a" stroke-width="0.22" text-anchor="middle">25</text>
<text x="454.2" y="467.3" font-size="8.6" fill="#2a2a2a" stroke="#2a2a2a" stroke-width="0.22" text-anchor="middle">Months</text>
<text x="375.5" y="387.3" font-size="8.6" fill="#2a2a2a" stroke="#2a2a2a" stroke-width="0.22" text-anchor="middle" transform="rotate(-90 375.5 387.3)">Survival probability</text>
<text x="455" y="331" font-size="8.6" fill="#2a2a2a" stroke="#2a2a2a" stroke-width="0.22" text-anchor="middle">CAR-T therapy (ZUMA-1)</text>
<path d="M420.2,335.3 L491.2,335.3 L491.2,363.7 L420.2,363.7 Z" fill="#eeecf7"/>
<path d="M401,335.5 L418,337 L423,345 L447,362 L460,368 L513,368 L513,405 L470,405 L452,398 L446,392 L440,381 L430,368 L420,353 L410,344 L401,336 Z" fill="#fbe0c4" opacity="0.5"/>
<path d="M400.3,335.5 L420.5,335.5 L420.5,345.5 L489.4,345.5" stroke="#5a4fa0" stroke-width="1.4" fill="none"/>
<path d="M400.3,335.5 L403.5,335.5 L403.5,340.2 L409.4,340.2 L409.4,342.7 L413,342.7 L413,345 L417,345 L417,347.7 L420.3,347.7 L420.3,351.1 L423,351.1 L423,353.5 L425.4,353.5 L425.4,356.1 L428,356.1 L428,359 L430.4,359 L430.4,362 L433,362 L433,364 L435.5,364 L435.5,366.2 L438,366.2 L438,368.4 L440.5,368.4 L440.5,370.4 L442,370.4 L442,373 L443.9,373 L443.9,375.5 L445,375.5 L445,377.6 L446.4,377.6 L446.4,380.2 L467.6,380.2 L467.6,384.5 L470.5,384.5 L470.5,389 L513,389" stroke="#e8892b" stroke-width="1.4" fill="none"/>
<rect x="450.3" y="379.5" width="1.4" height="1.4" fill="#222"/>
<rect x="453.3" y="379.5" width="1.4" height="1.4" fill="#222"/>
<rect x="456.3" y="379.5" width="1.4" height="1.4" fill="#222"/>
<rect x="459.3" y="379.5" width="1.4" height="1.4" fill="#222"/>
<rect x="462.3" y="379.5" width="1.4" height="1.4" fill="#222"/>
<rect x="473.3" y="388.3" width="1.4" height="1.4" fill="#222"/>
<rect x="476.3" y="388.3" width="1.4" height="1.4" fill="#222"/>
<rect x="479.3" y="388.3" width="1.4" height="1.4" fill="#222"/>
<rect x="482.3" y="388.3" width="1.4" height="1.4" fill="#222"/>
<rect x="485.3" y="388.3" width="1.4" height="1.4" fill="#222"/>
<rect x="488.3" y="388.3" width="1.4" height="1.4" fill="#222"/>
<rect x="498.3" y="388.3" width="1.4" height="1.4" fill="#222"/>
<rect x="502.3" y="388.3" width="1.4" height="1.4" fill="#222"/>
<rect x="462.3" y="344.8" width="1.4" height="1.4" fill="#222"/>
<rect x="465.3" y="344.8" width="1.4" height="1.4" fill="#222"/>
<rect x="468.3" y="344.8" width="1.4" height="1.4" fill="#222"/>
<rect x="472.3" y="344.8" width="1.4" height="1.4" fill="#222"/>
<rect x="475.3" y="344.8" width="1.4" height="1.4" fill="#222"/>
<rect x="478.3" y="344.8" width="1.4" height="1.4" fill="#222"/>
<rect x="481.3" y="344.8" width="1.4" height="1.4" fill="#222"/>
<rect x="484.3" y="344.8" width="1.4" height="1.4" fill="#222"/>
<rect x="487.3" y="344.8" width="1.4" height="1.4" fill="#222"/>
<text x="461" y="362.2" font-size="9.4" fill="#5a4fa0" stroke="#5a4fa0" stroke-width="0.1" font-weight="bold" font-style="italic">FAS<tspan dy="-3.6" font-size="6.8">hi</tspan></text>
<text x="479.3" y="404.2" font-size="9.4" fill="#ec9440" stroke="#ec9440" stroke-width="0.1" font-weight="bold" font-style="italic">FAS<tspan dy="-3.6" font-size="6.4">low</tspan></text>
<text x="434.4" y="423.6" font-size="8.6" fill="#2a2a2a" stroke="#2a2a2a" stroke-width="0.22" text-anchor="middle"><tspan font-style="italic">P</tspan> = 0.04</text>
</svg>
</body></html>
